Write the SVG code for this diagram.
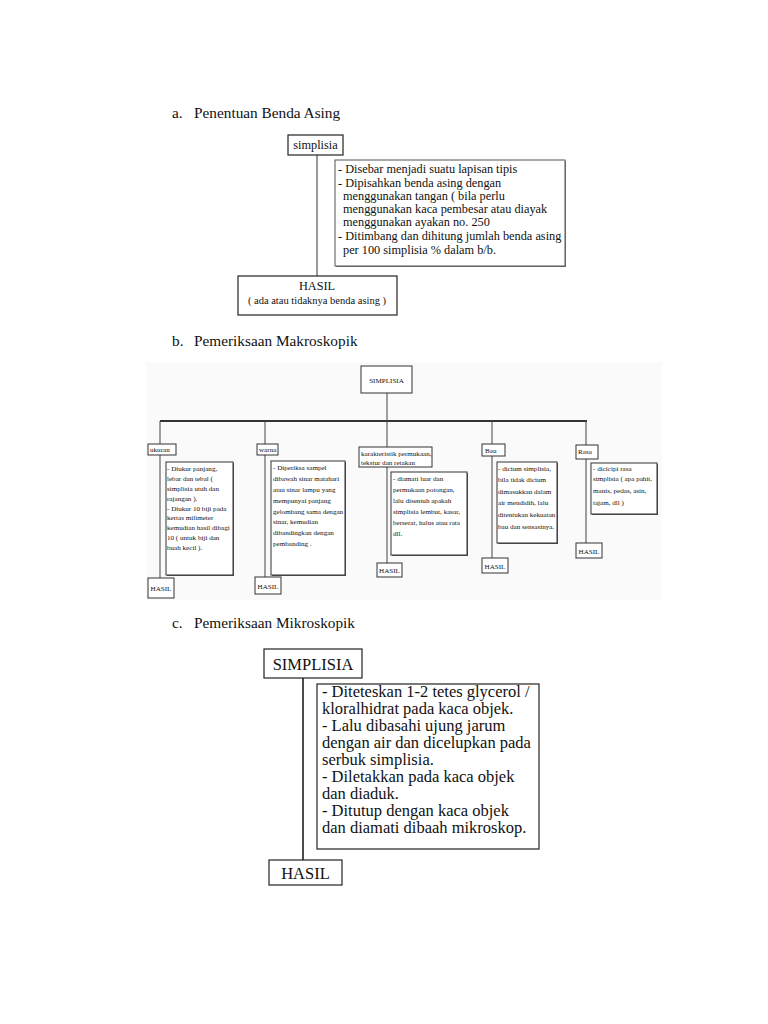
<svg xmlns="http://www.w3.org/2000/svg" width="768" height="1024" viewBox="0 0 768 1024">
<style>
text{font-family:"Liberation Serif","Times New Roman",serif;fill:#111}
.h{font-size:15.3px}
.a{font-size:12.3px}
.b{font-size:7.1px}
.c{font-size:16.5px}
.box{fill:#fff;stroke:#222;stroke-width:1.2}
.bbox{fill:#fff;stroke:#333;stroke-width:1}
.sh{fill:#555}
.ln{stroke:#777;stroke-width:1.5;fill:none}
.lb{stroke:#444;stroke-width:1;fill:none}
.lc{stroke:#111;stroke-width:1.5;fill:none}
</style>
<rect width="768" height="1024" fill="#fff"/>

<!-- Headings -->
<text class="h" x="172" y="118">a.</text>
<text class="h" x="194" y="118">Penentuan Benda Asing</text>
<text class="h" x="172" y="346">b.</text>
<text class="h" x="194" y="346">Pemeriksaan Makroskopik</text>
<text class="h" x="172" y="628">c.</text>
<text class="h" x="194" y="628">Pemeriksaan Mikroskopik</text>

<!-- Section b background -->
<rect x="146" y="362" width="516" height="238" fill="#fafafa"/>

<!-- Connectors -->
<g id="connectors">
  <line class="ln" x1="317" y1="155" x2="317" y2="276"/>
  <line class="lb" x1="387" y1="393" x2="387" y2="421"/>
  <line x1="160" y1="421" x2="587" y2="421" stroke="#333" stroke-width="2"/>
  <line class="lb" x1="160" y1="421" x2="160" y2="578"/>
  <line class="lb" x1="265" y1="421" x2="265" y2="577"/>
  <line class="lb" x1="387" y1="421" x2="387" y2="563"/>
  <line class="lb" x1="492" y1="421" x2="492" y2="558"/>
  <line class="lb" x1="586" y1="421" x2="586" y2="543"/>
  <line class="lc" x1="303" y1="678" x2="303" y2="860"/>
</g>

<!-- Section a -->
<g id="a-simplisia">
  <rect class="box" x="288" y="135" width="55" height="20"/>
  <text class="a" x="315.5" y="149" text-anchor="middle">simplisia</text>
</g>
<g id="a-steps">
  <rect x="336" y="161" width="230" height="106" fill="#777"/>
  <rect x="335" y="160" width="230" height="106" fill="#fff" stroke="#555" stroke-width="1"/>
  <text class="a" x="338" y="173">- Disebar menjadi suatu lapisan tipis</text>
  <text class="a" x="338" y="187">- Dipisahkan benda asing dengan</text>
  <text class="a" x="343" y="200">menggunakan tangan ( bila perlu</text>
  <text class="a" x="343" y="213">menggunakan kaca pembesar atau diayak</text>
  <text class="a" x="343" y="226">menggunakan ayakan no. 250</text>
  <text class="a" x="338" y="240">- Ditimbang dan dihitung jumlah benda asing</text>
  <text class="a" x="343" y="254">per 100 simplisia % dalam b/b.</text>
</g>
<g id="a-hasil">
  <rect class="box" x="238" y="276" width="159" height="39"/>
  <text class="a" x="317" y="290" text-anchor="middle">HASIL</text>
  <text x="317" y="304" text-anchor="middle" font-size="10.5">( ada atau tidaknya benda asing )</text>
</g>

<!-- Section b -->
<g id="b-simplisia">
  <rect class="bbox" x="361" y="366" width="51" height="27"/>
  <text class="b" x="386.5" y="383" text-anchor="middle" font-size="9">SIMPLISIA</text>
</g>

<g id="b-ukuran">
  <rect class="bbox" x="148" y="444" width="28" height="11"/>
  <text class="b" x="150" y="452">ukuran</text>
  <rect class="sh" x="167" y="463" width="67" height="113"/>
  <rect class="bbox" x="166" y="462" width="67" height="113"/>
  <text class="b" x="167" y="471">- Diukur panjang,</text>
  <text class="b" x="167" y="481">lebar dan tebal (</text>
  <text class="b" x="167" y="491">simplisia utuh dan</text>
  <text class="b" x="167" y="501">rajangan ).</text>
  <text class="b" x="167" y="511">- Diukur 10 biji pada</text>
  <text class="b" x="167" y="520">kertas milimeter</text>
  <text class="b" x="167" y="530">kemudian hasil dibagi</text>
  <text class="b" x="167" y="540">10 ( untuk biji dan</text>
  <text class="b" x="167" y="550">buah kecil ).</text>
  <rect class="bbox" x="148" y="578" width="26" height="20"/>
  <text class="b" x="161" y="591" text-anchor="middle">HASIL</text>
</g>

<g id="b-warna">
  <rect class="bbox" x="257" y="444" width="21" height="11"/>
  <text class="b" x="259" y="452">warna</text>
  <rect class="sh" x="272" y="462" width="74" height="114"/>
  <rect class="bbox" x="271" y="461" width="74" height="114"/>
  <text class="b" x="273" y="470">- Diperiksa sampel</text>
  <text class="b" x="273" y="481">dibawah sinar matahari</text>
  <text class="b" x="273" y="492">atau sinar lampu yang</text>
  <text class="b" x="273" y="503">mempunyai panjang</text>
  <text class="b" x="273" y="514">gelombang sama dengan</text>
  <text class="b" x="273" y="524">sinar, kemudian</text>
  <text class="b" x="273" y="535">dibandingkan dengan</text>
  <text class="b" x="273" y="546">pembanding .</text>
  <rect class="bbox" x="255" y="577" width="26" height="17"/>
  <text class="b" x="268" y="589" text-anchor="middle">HASIL</text>
</g>

<g id="b-karakteristik">
  <rect class="bbox" x="359" y="447" width="73" height="20"/>
  <text class="b" x="361" y="456">karakteristik permukaan,</text>
  <text class="b" x="361" y="465">tekstur dan retakan</text>
  <rect class="sh" x="392" y="473" width="76" height="83"/>
  <rect class="bbox" x="391" y="472" width="76" height="83"/>
  <text class="b" x="393" y="481">- diamati luar dan</text>
  <text class="b" x="393" y="492">permukaan potongan,</text>
  <text class="b" x="393" y="503">lalu disentuh apakah</text>
  <text class="b" x="393" y="514">simplisia lembut, kasar,</text>
  <text class="b" x="393" y="525">berserat, halus atau rata</text>
  <text class="b" x="393" y="536">dll.</text>
  <rect class="bbox" x="377" y="563" width="25" height="14"/>
  <text class="b" x="389.5" y="573" text-anchor="middle">HASIL</text>
</g>

<g id="b-bau">
  <rect class="bbox" x="482" y="444" width="23" height="12"/>
  <text class="b" x="485" y="453">Bau</text>
  <rect class="sh" x="498" y="463" width="60" height="81"/>
  <rect class="bbox" x="497" y="462" width="60" height="81"/>
  <text class="b" x="498" y="471">- dicium simplisia,</text>
  <text class="b" x="498" y="482">bila tidak dicium</text>
  <text class="b" x="498" y="494">dimasukkan dalam</text>
  <text class="b" x="498" y="505">air mendidih, lalu</text>
  <text class="b" x="498" y="517">ditentukan kekuatan</text>
  <text class="b" x="498" y="529">bau dan sensasinya.</text>
  <rect class="bbox" x="482" y="558" width="26" height="15"/>
  <text class="b" x="495" y="569" text-anchor="middle">HASIL</text>
</g>

<g id="b-rasa">
  <rect class="bbox" x="576" y="445" width="22" height="14"/>
  <text class="b" x="578" y="454">Rasa</text>
  <rect class="sh" x="592" y="464" width="66" height="51"/>
  <rect class="bbox" x="591" y="463" width="66" height="51"/>
  <text class="b" x="593" y="471">- dicicipi rasa</text>
  <text class="b" x="593" y="481">simplisia ( apa pahit,</text>
  <text class="b" x="593" y="493">manis, pedas, asin,</text>
  <text class="b" x="593" y="505">tajam, dll )</text>
  <rect class="bbox" x="576" y="543" width="26" height="15"/>
  <text class="b" x="589" y="554" text-anchor="middle">HASIL</text>
</g>

<!-- Section c -->
<g id="c-simplisia">
  <rect class="box" x="264" y="649" width="98" height="29" stroke-width="1.5"/>
  <text class="c" x="313" y="670" text-anchor="middle" font-size="17">SIMPLISIA</text>
</g>
<g id="c-steps">
  <rect class="box" x="317" y="684" width="222" height="165" stroke-width="1.5"/>
  <text class="c" x="322" y="697">- Diteteskan 1-2 tetes glycerol /</text>
  <text class="c" x="322" y="714">kloralhidrat pada kaca objek.</text>
  <text class="c" x="322" y="731">- Lalu dibasahi ujung jarum</text>
  <text class="c" x="322" y="748">dengan air dan dicelupkan pada</text>
  <text class="c" x="322" y="765">serbuk simplisia.</text>
  <text class="c" x="322" y="782">- Diletakkan pada kaca objek</text>
  <text class="c" x="322" y="799">dan diaduk.</text>
  <text class="c" x="322" y="816">- Ditutup dengan kaca objek</text>
  <text class="c" x="322" y="833">dan diamati dibaah mikroskop.</text>
</g>
<g id="c-hasil">
  <rect class="box" x="269" y="860" width="73" height="25" stroke-width="1.5"/>
  <text class="c" x="305.5" y="879" text-anchor="middle" font-size="17">HASIL</text>
</g>
</svg>
